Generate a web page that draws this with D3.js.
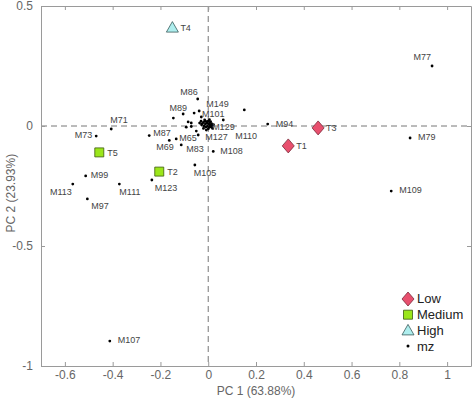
<!DOCTYPE html>
<html>
<head>
<meta charset="utf-8">
<script src="https://cdn.jsdelivr.net/npm/d3@7"></script>
<style>
  body { margin: 0; background: #fff; }
  svg { font-family: "Liberation Sans", "DejaVu Sans", sans-serif; }
</style>
</head>
<body>
<div id="chart"></div>
<script>
// samples (PC1, PC2)
const lowSamples = [['T1', 0.335, -0.083], ['T3', 0.46, -0.008]];
const mediumSamples = [['T5', -0.456, -0.11], ['T2', -0.205, -0.19]];
const highSamples = [['T4', -0.15, 0.41]];

// labelled m/z loadings
const mzLabelled = [
  ['M77', 0.937, 0.25], ['M79', 0.845, -0.05], ['M109', 0.766, -0.271],
  ['M94', 0.249, 0.008], ['M71', -0.406, -0.0125], ['M73', -0.469, -0.042],
  ['M87', -0.247, -0.04], ['M69', -0.163, -0.06], ['M65', -0.134, -0.054],
  ['M83', -0.113, -0.079], ['M105', -0.056, -0.1625], ['M108', 0.021, -0.106],
  ['M86', -0.044, 0.1125], ['M89', -0.105, 0.05], ['M99', -0.513, -0.208],
  ['M113', -0.567, -0.242], ['M111', -0.372, -0.242], ['M123', -0.236, -0.225],
  ['M97', -0.506, -0.304], ['M107', -0.412, -0.896], ['M149', -0.038, 0.0625],
  ['M101', -0.013, 0.021], ['M129', 0.008, 0.0], ['M127', -0.008, -0.017],
  ['M110', 0.063, 0.025]
];

// unlabelled m/z loadings (mostly the cluster around the origin)
const mzOther = [
  [-0.03, 0.02], [-0.025, 0.01], [-0.02, 0.015], [-0.018, 0.0], [-0.015, 0.025],
  [-0.012, 0.008], [-0.01, -0.005], [-0.008, 0.018], [-0.005, 0.012], [-0.003, 0.0],
  [0.0, 0.02], [0.002, 0.008], [0.004, -0.006], [0.006, 0.014], [0.008, 0.004],
  [0.01, 0.018], [0.012, -0.004], [0.014, 0.01], [0.016, 0.002], [-0.02, -0.01],
  [-0.028, 0.005], [0.0, -0.012], [0.018, -0.01], [0.005, 0.026], [-0.036, 0.012],
  [0.022, 0.006], [-0.146, 0.033], [-0.084, 0.017], [-0.071, -0.002], [-0.071, 0.0125],
  [-0.029, 0.0375], [-0.059, 0.054], [0.151, 0.067], [-0.05, -0.021], [-0.042, -0.0375],
  [-0.092, -0.005]
];

const xTicks = [-0.6, -0.4, -0.2, 0, 0.2, 0.4, 0.6, 0.8, 1];
const yTicks = [-1, -0.5, 0, 0.5];
const legendItems = ['Low', 'Medium', 'High', 'mz'];

// label placement for the text annotations: [dx, dy, anchor] in px
const labelPos = {
  M77: [-1, -8.5, 'end'], M79: [8, 0, 'start'], M109: [8, 0, 'start'], M94: [8, 1, 'start'],
  M71: [-1, -8, 'start'], M73: [-4, 0, 'end'], M87: [4, -2, 'start'], M69: [-13, 7, 'start'],
  M65: [3, 0, 'start'], M83: [5, 5, 'start'], M105: [-1, 9, 'start'], M108: [7, 0, 'start'],
  M86: [0, -6, 'end'], M89: [4, -5, 'end'], M99: [5, 0, 'start'], M113: [-1, 9, 'end'],
  M111: [0, 9, 'start'], M123: [3, 9, 'start'], M97: [4, 8, 'start'], M107: [8, 0, 'start'],
  M149: [7, -6, 'start'], M101: [-3, -6, 'start'], M129: [2, 1.5, 'start'], M127: [-1, 7.5, 'start'],
  M110: [12, 17, 'start']
};

const W = 474, H = 399;
const mLeft = 41, mRight = 471, mTop = 6, mBottom = 366;

const svg = d3.select('#chart').append('svg')
  .attr('width', W).attr('height', H);

const x = d3.scaleLinear().domain([-0.7, 1.1]).range([mLeft, mRight]);
const y = d3.scaleLinear().domain([-1, 0.5]).range([mBottom, mTop]);

const axisColor = '#9a9a9a';
const tickText = '#666';

// zero lines
svg.append('line')
  .attr('x1', x(0)).attr('x2', x(0)).attr('y1', mTop).attr('y2', mBottom)
  .attr('stroke', '#777').attr('stroke-dasharray', '6,4').attr('stroke-width', 1);
svg.append('line')
  .attr('x1', mLeft).attr('x2', mRight).attr('y1', y(0)).attr('y2', y(0))
  .attr('stroke', '#777').attr('stroke-dasharray', '6,4').attr('stroke-width', 1);

// axes (ticks inward, mirrored on top/right)
function styleAxis(g) {
  g.selectAll('path').attr('stroke', axisColor);
  g.selectAll('line').attr('stroke', axisColor);
  g.selectAll('text').attr('fill', tickText).style('font-size', '12px');
}
svg.append('g').attr('transform', `translate(0,${mBottom})`)
  .call(d3.axisBottom(x).tickValues(xTicks).tickSizeInner(-4).tickSizeOuter(0).tickPadding(4).tickFormat(d3.format('')))
  .call(styleAxis);
svg.append('g').attr('transform', `translate(0,${mTop})`)
  .call(d3.axisTop(x).tickValues(xTicks).tickSizeInner(-4).tickSizeOuter(0).tickFormat(''))
  .call(styleAxis);
svg.append('g').attr('transform', `translate(${mLeft},0)`)
  .call(d3.axisLeft(y).tickValues(yTicks).tickSizeInner(-4).tickSizeOuter(0).tickPadding(8).tickFormat(d3.format('')))
  .call(styleAxis);
svg.append('g').attr('transform', `translate(${mRight},0)`)
  .call(d3.axisRight(y).tickValues(yTicks).tickSizeInner(-4).tickSizeOuter(0).tickFormat(''))
  .call(styleAxis);
svg.selectAll('.domain').attr('stroke', axisColor);
svg.selectAll('.tick text').text(function() { return d3.select(this).text().replace('−', '-'); });

// axis titles
svg.append('text').attr('x', x(0.2)).attr('y', 392)
  .attr('text-anchor', 'middle').attr('dominant-baseline', 'middle')
  .attr('fill', tickText).style('font-size', '12px').text('PC 1 (63.88%)');
svg.append('text').attr('transform', `translate(12,${y(-0.28)}) rotate(-90)`)
  .attr('text-anchor', 'middle').attr('dominant-baseline', 'middle')
  .attr('fill', tickText).style('font-size', '12px').text('PC 2 (23.93%)');

// marker shapes
const diamond = (cx, cy) => `M${cx},${cy - 7}L${cx + 6},${cy}L${cx},${cy + 7}L${cx - 6},${cy}Z`;
const square = (cx, cy) => `M${cx - 4.5},${cy - 4.5}h9v9h-9Z`;
const triangle = (cx, cy) => `M${cx},${cy - 6}L${cx + 6},${cy + 4.5}L${cx - 6},${cy + 4.5}Z`;

const markerStyle = {
  Low: { path: diamond, fill: '#e8506e', stroke: '#7a2a3a' },
  Medium: { path: square, fill: '#9be61a', stroke: '#3d5a10' },
  High: { path: triangle, fill: '#aeeeee', stroke: '#3a5a5a' }
};

// m/z points
const pts = svg.append('g');
pts.selectAll('circle.mz')
  .data(mzOther.concat(mzLabelled.map(d => [d[1], d[2]])))
  .join('circle').attr('class', 'mz')
  .attr('cx', d => x(d[0])).attr('cy', d => y(d[1]))
  .attr('r', 1.4).attr('fill', '#000');

pts.selectAll('text.mzl').data(mzLabelled)
  .join('text').attr('class', 'mzl')
  .attr('x', d => x(d[1]) + labelPos[d[0]][0])
  .attr('y', d => y(d[2]) + labelPos[d[0]][1])
  .attr('text-anchor', d => labelPos[d[0]][2])
  .attr('dominant-baseline', 'middle')
  .attr('fill', '#444').style('font-size', '9px')
  .text(d => d[0]);

// sample markers
[['Low', lowSamples], ['Medium', mediumSamples], ['High', highSamples]].forEach(([grp, arr]) => {
  const st = markerStyle[grp];
  const g = svg.append('g');
  g.selectAll('path').data(arr).join('path')
    .attr('d', d => st.path(x(d[1]), y(d[2])))
    .attr('fill', st.fill).attr('stroke', st.stroke).attr('stroke-width', 0.8);
  g.selectAll('text').data(arr).join('text')
    .attr('x', d => x(d[1]) + 8).attr('y', d => y(d[2]) + 1)
    .attr('dominant-baseline', 'middle')
    .attr('fill', '#444').style('font-size', '9px')
    .text(d => d[0]);
});

// legend
const lg = svg.append('g');
legendItems.forEach((name, i) => {
  const cy = 299 + i * 15.7, cx = 408;
  if (markerStyle[name]) {
    const st = markerStyle[name];
    lg.append('path').attr('d', st.path(cx, cy))
      .attr('fill', st.fill).attr('stroke', st.stroke).attr('stroke-width', 0.8);
  } else {
    lg.append('circle').attr('cx', cx).attr('cy', cy).attr('r', 1.5).attr('fill', '#000');
  }
  lg.append('text').attr('x', 417).attr('y', cy + 1)
    .attr('dominant-baseline', 'middle')
    .attr('fill', '#222').style('font-size', '13px')
    .text(name);
});
</script>
</body>
</html>
